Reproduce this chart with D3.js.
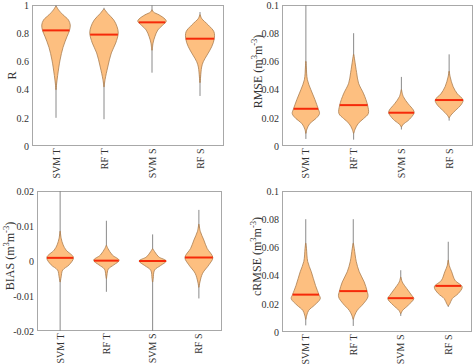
<!DOCTYPE html>
<html><head><meta charset="utf-8">
<script src="https://cdn.jsdelivr.net/npm/d3@7"></script>
<style>
html,body{margin:0;padding:0;background:#fff;}
svg{display:block;font-family:"Liberation Serif","Times New Roman",Tinos,serif;}
svg text{font-family:"Liberation Serif","Times New Roman",Tinos,serif;}
</style></head>
<body><svg id="c" width="474" height="364"></svg>
<script>
const categories = ["SVM T", "RF T", "SVM S", "RF S"];

// R
const rTicks = [0, 0.2, 0.4, 0.6, 0.8, 1];
const rTickLabels = ["0", "0.2", "0.4", "0.6", "0.8", "1"];
const rMedian = [0.82, 0.79, 0.877, 0.761];
const rMin = [0.20, 0.19, 0.52, 0.355];
const rMax = [1.0, 0.98, 1.0, 0.95];
const rProfile = [
  [[0.99,0.03],[0.965,0.17],[0.93,0.47],[0.894,0.83],[0.858,0.95],[0.82,0.9],[0.775,0.73],[0.70,0.47],[0.61,0.27],[0.50,0.11],[0.44,0.04],[0.40,0.01]],
  [[0.97,0.03],[0.94,0.25],[0.894,0.65],[0.846,0.87],[0.80,0.95],[0.73,0.78],[0.66,0.49],[0.56,0.25],[0.47,0.07],[0.42,0.01]],
  [[0.965,0.02],[0.95,0.1],[0.93,0.47],[0.90,0.87],[0.885,0.95],[0.858,0.72],[0.823,0.39],[0.775,0.19],[0.73,0.07],[0.68,0.02]],
  [[0.93,0.02],[0.906,0.1],[0.858,0.55],[0.81,0.93],[0.76,0.95],[0.704,0.78],[0.645,0.47],[0.598,0.22],[0.56,0.11],[0.49,0.04],[0.45,0.01]]
];

// RMSE
const rmseTicks = [0, 0.02, 0.04, 0.06, 0.08, 0.1];
const rmseTickLabels = ["0", "0.02", "0.04", "0.06", "0.08", "0.1"];
const rmseMedian = [0.0264, 0.029, 0.0236, 0.0326];
const rmseMin = [0.005, 0.0045, 0.0117, 0.018];
const rmseMax = [0.1, 0.08, 0.049, 0.065];
const rmseProfile = [
  [[0.06,0.01],[0.056,0.03],[0.047,0.1],[0.040,0.33],[0.033,0.6],[0.0264,0.82],[0.023,0.91],[0.0195,0.67],[0.016,0.27],[0.012,0.07],[0.009,0.01]],
  [[0.065,0.01],[0.061,0.07],[0.052,0.2],[0.0445,0.33],[0.037,0.67],[0.029,0.93],[0.023,0.98],[0.0195,0.67],[0.016,0.31],[0.012,0.1],[0.009,0.01]],
  [[0.04,0.01],[0.035,0.13],[0.030,0.45],[0.0255,0.8],[0.0236,0.85],[0.022,0.78],[0.018,0.45],[0.0155,0.13],[0.0135,0.01]],
  [[0.053,0.01],[0.049,0.07],[0.042,0.27],[0.037,0.55],[0.0326,0.93],[0.029,0.78],[0.0255,0.45],[0.022,0.13],[0.02,0.01]]
];

// BIAS
const biasTicks = [-0.02, -0.01, 0, 0.01, 0.02];
const biasTickLabels = ["-0.02", "-0.01", "0", "0.01", "0.02"];
const biasMedian = [0.0009, 0.0001, 0.0, 0.001];
const biasMin = [-0.02, -0.0088, -0.02, -0.0107];
const biasMax = [0.02, 0.0115, 0.0076, 0.0146];
const biasProfile = [
  [[0.0085,0.01],[0.0065,0.07],[0.0046,0.2],[0.0031,0.4],[0.001,0.89],[-0.0011,0.6],[-0.0026,0.17],[-0.0045,0.07],[-0.006,0.01]],
  [[0.0045,0.01],[0.0036,0.1],[0.0017,0.4],[0.0002,0.85],[-0.0011,0.5],[-0.0023,0.13],[-0.004,0.04],[-0.005,0.01]],
  [[0.0035,0.01],[0.0027,0.13],[0.0012,0.4],[0.0,0.9],[-0.0013,0.53],[-0.0026,0.13],[-0.005,0.04],[-0.006,0.01]],
  [[0.0105,0.01],[0.0084,0.1],[0.006,0.33],[0.0036,0.55],[0.001,0.93],[-0.0011,0.67],[-0.0035,0.25],[-0.006,0.07],[-0.0075,0.01]]
];

// cRMSE
const crmseTicks = [0, 0.02, 0.04, 0.06, 0.08, 0.1];
const crmseTickLabels = ["0", "0.02", "0.04", "0.06", "0.08", "0.1"];
const crmseMedian = [0.0265, 0.029, 0.024, 0.0327];
const crmseMin = [0.0047, 0.0043, 0.0114, 0.0178];
const crmseMax = [0.08, 0.08, 0.0438, 0.064];
const crmseProfile = [
  [[0.063,0.01],[0.059,0.05],[0.050,0.13],[0.0427,0.37],[0.033,0.65],[0.0265,0.88],[0.0237,0.97],[0.019,0.58],[0.0154,0.2],[0.012,0.07],[0.009,0.01]],
  [[0.063,0.01],[0.059,0.07],[0.050,0.2],[0.0427,0.4],[0.0355,0.73],[0.029,0.92],[0.025,0.98],[0.020,0.67],[0.0154,0.27],[0.012,0.1],[0.009,0.01]],
  [[0.039,0.01],[0.0355,0.1],[0.0308,0.4],[0.026,0.73],[0.0237,0.87],[0.019,0.5],[0.0154,0.13],[0.013,0.01]],
  [[0.051,0.01],[0.047,0.07],[0.0427,0.23],[0.0367,0.45],[0.032,0.93],[0.0273,0.67],[0.0237,0.27],[0.020,0.1],[0.0185,0.01]]
];

const svg = d3.select("#c");
const FONT = '"Liberation Serif","Times New Roman",Tinos,serif';
const FILL = "#FDBF80", EDGE = "#A97E50", MED = "#F52A0A", TXT = "#333", FRAME = "#A8A8A8";

const panels = [
  {box:[32,224,5,146], domain:[0,1], ticks:rTicks, labels:rTickLabels, med:rMedian, mn:rMin, mx:rMax, prof:rProfile, name:null, lx:16, dyc:0},
  {box:[282,473,5,146], domain:[0,0.1], ticks:rmseTicks, labels:rmseTickLabels, med:rmseMedian, mn:rmseMin, mx:rmseMax, prof:rmseProfile, name:"RMSE", lx:262, dyc:-4},
  {box:[37,222,191,331], domain:[-0.02,0.02], ticks:biasTicks, labels:biasTickLabels, med:biasMedian, mn:biasMin, mx:biasMax, prof:biasProfile, name:"BIAS", lx:14, dyc:-5},
  {box:[282,472,191,332], domain:[0,0.1], ticks:crmseTicks, labels:crmseTickLabels, med:crmseMedian, mn:crmseMin, mx:crmseMax, prof:crmseProfile, name:"cRMSE", lx:261, dyc:-5}
];

panels.forEach(p => {
  const [x0,x1,y0,y1] = p.box;
  const x = d3.scaleBand().domain(categories).range([x0,x1]).paddingInner(0).paddingOuter(0);
  const y = d3.scaleLinear().domain(p.domain).range([y1,y0]);
  const w = d3.scaleLinear().domain([0,1]).range([0, 48*0.3125]);
  const g = svg.append("g");

  // y axis (labels only)
  const ax = d3.axisLeft(y).tickValues(p.ticks).tickFormat((d,i)=>p.labels[i]).tickSize(0).tickPadding(3);
  const ag = g.append("g").attr("transform",`translate(${x0},0)`).call(ax);
  ag.attr("font-family",null).attr("font-size",null);
  ag.select(".domain").remove();
  ag.selectAll("text").attr("fill",TXT).style("font-size","10px").style("font-family",FONT);

  // x axis labels rotated
  const xg = g.append("g").attr("transform",`translate(0,${y1})`).call(d3.axisBottom(x).tickSize(0));
  xg.attr("font-family",null).attr("font-size",null);
  xg.select(".domain").remove();
  xg.selectAll("text").attr("fill",TXT).style("font-size","10px").style("font-family",FONT)
    .attr("text-anchor","end").attr("dy",null).attr("y",0)
    .attr("transform","translate(3.5,2.5) rotate(-90)");

  // frame
  g.append("rect").attr("x",x0+0.5).attr("y",y0+0.5).attr("width",x1-x0-1).attr("height",y1-y0-1)
    .attr("fill","none").attr("stroke",FRAME).attr("stroke-width",1);

  categories.forEach((c,i) => {
    const cx = x(c) + x.bandwidth()/2;
    // tail
    g.append("line").attr("x1",cx).attr("x2",cx).attr("y1",y(p.mn[i])).attr("y2",y(p.mx[i]))
      .attr("stroke","#8a8a8a").attr("stroke-width",1);
    const area = d3.area().y(d=>y(d[0])).x0(d=>cx - w(d[1])).x1(d=>cx + w(d[1])).curve(d3.curveCatmullRom);
    g.append("path").attr("d",area(p.prof[i])).attr("fill",FILL).attr("stroke",EDGE).attr("stroke-width",0.8);
    // median width from profile
    const pr = p.prof[i];
    let hw = 0;
    for (let k=0;k<pr.length-1;k++){
      const a=pr[k], b=pr[k+1];
      if ((p.med[i]<=a[0] && p.med[i]>=b[0])){
        const t=(a[0]-p.med[i])/(a[0]-b[0]); hw = w(a[1]+(b[1]-a[1])*t); break;
      }
    }
    g.append("line").attr("x1",cx-hw).attr("x2",cx+hw).attr("y1",y(p.med[i])).attr("y2",y(p.med[i]))
      .attr("stroke",MED).attr("stroke-width",2);
  });

  // y title
  const cy = (y0+y1)/2 + p.dyc;
  const t = g.append("text").attr("transform",`translate(${p.lx},${cy}) rotate(-90)`)
    .attr("text-anchor","middle").attr("fill",TXT).style("font-size","12px").style("font-family",FONT);
  if (p.name === null) {
    t.text("R");
  } else {
    t.append("tspan").text(p.name + " (m");
    t.append("tspan").attr("dy",-5).style("font-size","8.5px").text("3");
    t.append("tspan").attr("dy",5).text("m");
    t.append("tspan").attr("dy",-5).style("font-size","8.5px").text("-3");
    t.append("tspan").attr("dy",5).text(")");
  }
});
</script></body></html>
